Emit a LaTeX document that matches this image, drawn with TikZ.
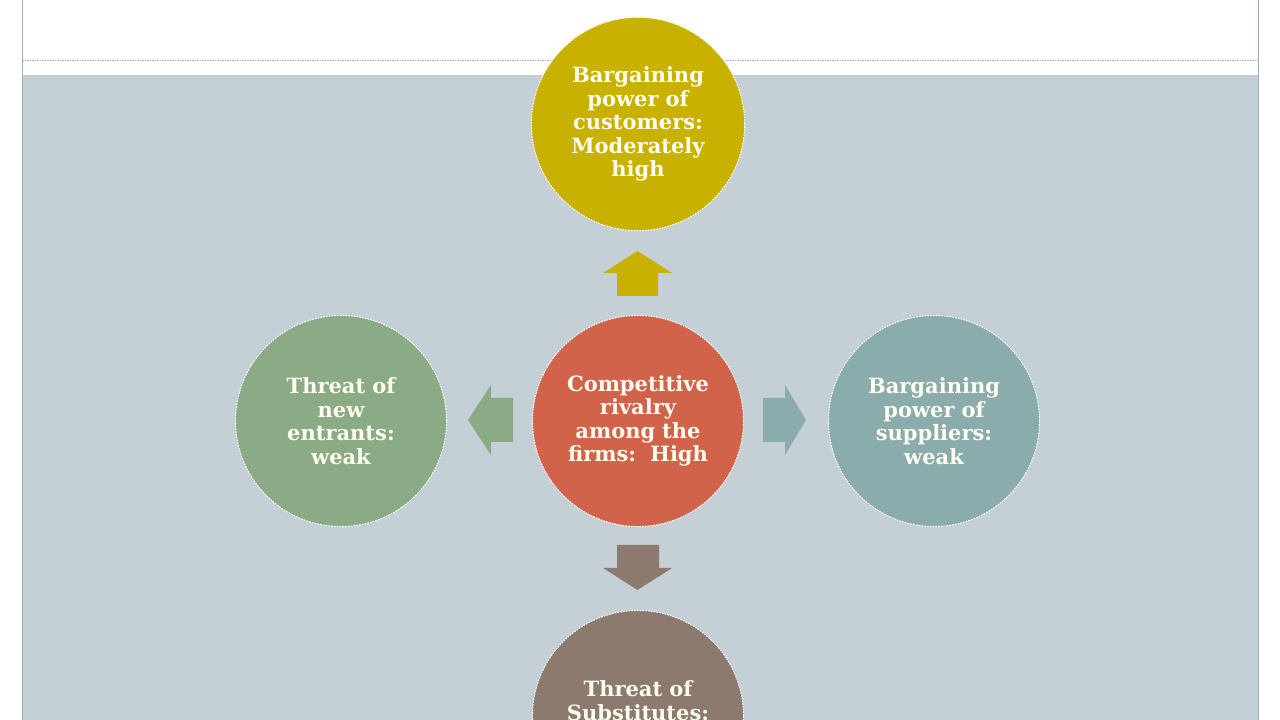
\documentclass[tikz,border=0pt]{standalone}
\usepackage{fontspec}
\setmainfont{DejaVu Serif}
\definecolor{slate}{RGB}{197,208,214}
\definecolor{framegray}{RGB}{160,174,182}
\definecolor{cyellow}{RGB}{201,177,0}
\definecolor{cred}{RGB}{208,99,74}
\definecolor{cgreen}{RGB}{139,170,134}
\definecolor{cteal}{RGB}{139,172,172}
\definecolor{cbrown}{RGB}{140,122,110}
\definecolor{textwhite}{RGB}{255,252,240}
\tikzset{
  force/.style={circle, minimum size=211pt, inner sep=0pt, draw=white,
    dash pattern=on 1.8pt off 1pt, line width=0.9pt, text=textwhite,
    font=\bfseries\fontsize{21}{23.5}\selectfont, align=center, text width=180pt},
  frameline/.style={draw=framegray, line width=0.8pt},
}
\begin{document}
\begin{tikzpicture}[x=1pt,y=1pt]
\useasboundingbox (0,0) rectangle (1280,720);
\clip (0,0) rectangle (1280,720);
\fill[white] (0,0) rectangle (1280,720);
\fill[slate] (22,0) rectangle (1258,645);
\draw[frameline] (22,0) -- (22,720);
\draw[frameline] (1258,0) -- (1258,720);
\draw[frameline, line width=0.7pt, dash pattern=on 1.5pt off 1pt] (22,660) -- (1258,660);

\node[force, fill=cyellow] (cust) at (638,596) {Bargaining\\power of\\customers:\\Moderately\\high};
\node[force, fill=cred] (rival) at (638,299) {Competitive\\rivalry\\among the\\firms:\ \ High};
\node[force, fill=cgreen] (entr) at (341,299) {Threat of\\new\\entrants:\\weak};
\node[force, fill=cteal] (supp) at (934,299) {Bargaining\\power of\\suppliers:\\weak};
\node[force, fill=cbrown] (subs) at (638,4) {Threat of\\Substitutes:\\\strut};

% block arrows
\fill[cyellow] (617,424) -- (617,447) -- (603,447) -- (637.5,469) -- (672,447) -- (658,447) -- (658,424) -- cycle;
\fill[cgreen] (513,278) -- (491,278) -- (491,265) -- (468,300) -- (491,335) -- (491,322) -- (513,322) -- cycle;
\fill[cteal] (763,278) -- (785,278) -- (785,265) -- (806,300) -- (785,335) -- (785,322) -- (763,322) -- cycle;
\fill[cbrown] (617,175) -- (617,152) -- (603,152) -- (637.5,130) -- (672,152) -- (659,152) -- (659,175) -- cycle;
\end{tikzpicture}
\end{document}
